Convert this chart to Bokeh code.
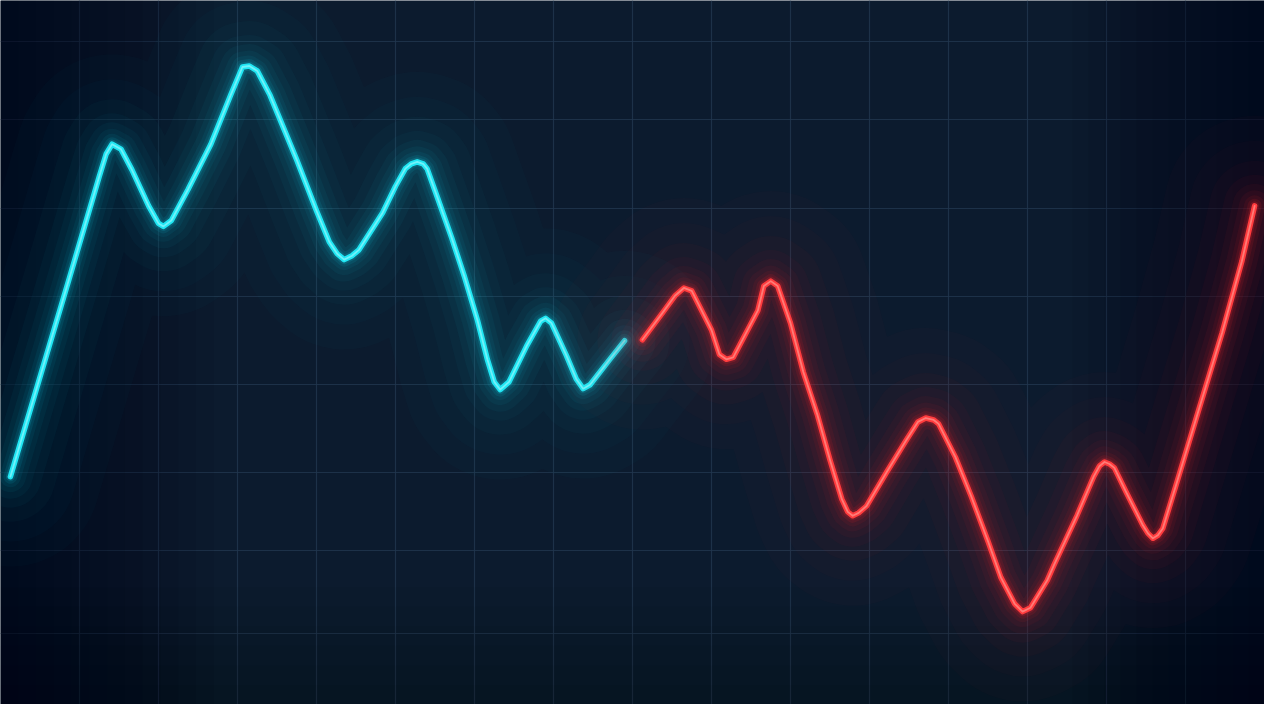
from bokeh.plotting import figure
from bokeh.models import Range1d, FixedTicker
from bokeh.embed import file_html
from bokeh.resources import INLINE

# Cyan (rising) section
up_x = [10, 40, 70, 100, 107, 113, 122, 133, 150, 160, 165, 173, 190, 213, 233, 245, 252, 260, 273,
        300, 320, 333, 341, 348, 356, 363, 387, 400, 410, 416, 422, 428, 432, 443, 457, 470, 483, 493,
        500, 506, 515, 533, 547, 552, 558, 573, 583, 590, 597, 617, 632]
up_y = [233, 335, 437, 540, 563, 573, 568, 547, 510, 492, 489, 495, 527, 573, 623, 652, 653, 648, 623,
        557, 505, 473, 461, 455, 459, 465, 503, 530, 548, 553, 555, 553, 548, 517, 477, 437, 393, 353,
        330, 322, 330, 367, 392, 395, 390, 357, 333, 323, 327, 353, 372]

# Red (falling) section
down_x = [650, 670, 683, 692, 700, 720, 728, 735, 742, 767, 773, 780, 787, 800, 813, 827, 840, 852, 858,
          863, 869, 877, 897, 917, 929, 937, 945, 950, 967, 983, 1000, 1013, 1027, 1035, 1043, 1060, 1067,
          1090, 1107, 1113, 1118, 1123, 1128, 1140, 1157, 1162, 1167, 1172, 1177, 1190, 1213, 1237, 1257, 1270]
down_y = [373, 400, 418, 426, 423, 383, 358, 353, 355, 403, 428, 433, 428, 390, 340, 297, 250, 210, 197,
          193, 196, 203, 237, 270, 289, 293, 291, 287, 253, 213, 167, 130, 103, 95, 99, 127, 143,
          193, 233, 244, 248, 246, 242, 217, 183, 175, 170, 173, 180, 223, 300, 380, 453, 510]

grid_x = [80, 160, 240, 320, 400, 480, 560, 640, 720, 800, 880, 960, 1040, 1120, 1200]
grid_y = [73, 158, 237, 327, 417, 507, 598, 678]

X0, X1 = 0, 1280
Y0, Y1 = 0, 720

p = figure(width=1264, height=704, output_backend="svg", toolbar_location=None,
           x_range=Range1d(X0, X1), y_range=Range1d(Y0, Y1), min_border=0)
p.background_fill_color = "#0c1b2e"
p.border_fill_color = "#0c1b2e"
p.outline_line_color = None
p.xaxis.visible = False
p.yaxis.visible = False
p.xgrid.ticker = FixedTicker(ticks=grid_x)
p.ygrid.ticker = FixedTicker(ticks=grid_y)
p.grid.grid_line_color = "#22374f"
p.grid.grid_line_width = 1.2
p.grid.grid_line_alpha = 0.8

# vignette: darker left and right edges, slightly darker bottom
for i in range(12):
    w = 18 * (i + 1)
    p.quad(left=X0, right=X0 + w, bottom=Y0, top=Y1, fill_color="#02060b", fill_alpha=0.055, line_color=None)
    p.quad(left=X1 - w * 0.9, right=X1, bottom=Y0, top=Y1, fill_color="#02060b", fill_alpha=0.055, line_color=None)
for i in range(6):
    h = 20 * (i + 1)
    p.quad(left=X0, right=X1, bottom=Y0, top=Y0 + h, fill_color="#02060b", fill_alpha=0.035, line_color=None)

def neon(xs, ys, glow, core, center):
    for w, a in [(180, 0.02), (130, 0.025), (90, 0.03), (62, 0.038), (44, 0.048), (31, 0.06),
                 (21, 0.08), (14, 0.12), (9, 0.2)]:
        p.line(xs, ys, line_color=glow, line_width=w, line_alpha=a, line_join="round", line_cap="round")
    p.line(xs, ys, line_color=core, line_width=5.5, line_join="round", line_cap="round")
    p.line(xs, ys, line_color=center, line_width=1.8, line_alpha=0.55, line_join="round", line_cap="round")

neon(up_x, up_y, "#12b6cf", "#1fe6f3", "#b5fcff")
neon(down_x, down_y, "#e8222c", "#ff3b3d", "#ffb0a8")

open("out.html", "w").write(file_html(p, INLINE))
